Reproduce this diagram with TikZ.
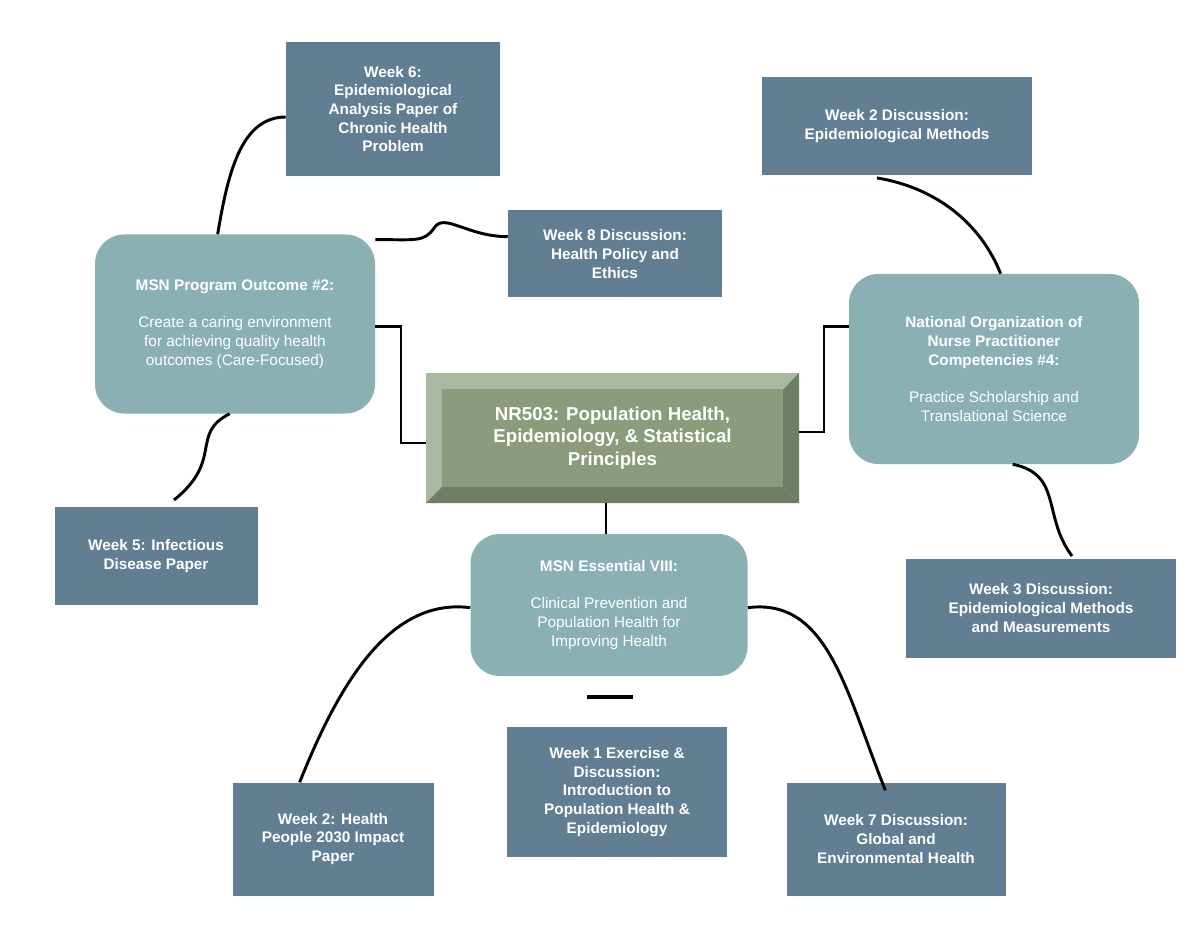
\documentclass[tikz,border=0pt]{standalone}
\usepackage{fontspec}
\setmainfont{Liberation Sans}
\begin{document}
\begin{tikzpicture}[x=0.75pt,y=-0.75pt,
  dark/.style={fill=darkbox,draw=none,text=white,font=\bfseries\fontsize{11.5}{14}\selectfont,align=center,inner sep=0pt},
  light/.style={fill=lightbox,draw=none,rounded corners=22pt,text=white,font=\fontsize{11.5}{14}\selectfont,align=center,inner sep=0pt},
  conn/.style={line width=2.2pt,black}]
\definecolor{darkbox}{HTML}{617E93}
\definecolor{lightbox}{HTML}{8AB0B4}
\definecolor{bevout}{HTML}{A9B8A0}
\definecolor{bevdark}{HTML}{6F7D63}
\definecolor{bevface}{HTML}{8B9B7B}
\useasboundingbox (0,0) rectangle (1200,927);
\fill[white] (0,0) rectangle (1200,927);
% dark boxes
\node[dark,minimum width=214*0.75pt,minimum height=134*0.75pt] (w6) at (393,109) {Week 6:\\Epidemiological\\Analysis Paper of\\Chronic Health\\Problem};
\node[dark,minimum width=270*0.75pt,minimum height=98*0.75pt] (w2d) at (897,126) {Week 2 Discussion:\\Epidemiological Methods};
\node[dark,minimum width=214*0.75pt,minimum height=87*0.75pt] (w8) at (615,254) {Week 8 Discussion:\\Health Policy and\\Ethics};
\node[dark,minimum width=203*0.75pt,minimum height=98*0.75pt] (w5) at (156,556) {Week 5: Infectious\\Disease Paper};
\node[dark,minimum width=270*0.75pt,minimum height=99*0.75pt] (w3) at (1041,608) {Week 3 Discussion:\\Epidemiological Methods\\and Measurements};
\node[dark,minimum width=220*0.75pt,minimum height=130*0.75pt] (w1) at (617,792) {Week 1 Exercise \&\\Discussion:\\Introduction to\\Population Health \&\\Epidemiology};
\node[dark,minimum width=201*0.75pt,minimum height=113*0.75pt] (w2h) at (333,839) {Week 2: Health\\People 2030 Impact\\Paper};
\node[dark,minimum width=219*0.75pt,minimum height=113*0.75pt] (w7) at (896,839) {Week 7 Discussion:\\Global and\\Environmental Health};
% light boxes
\node[light,minimum width=280*0.75pt,minimum height=179*0.75pt] (prog) at (235,324) {\textbf{MSN Program Outcome \#2:}\\[14pt]Create a caring environment\\for achieving quality health\\outcomes (Care-Focused)};
\node[light,minimum width=290*0.75pt,minimum height=190*0.75pt] (nonpf) at (994,369) {\textbf{National Organization of}\\\textbf{Nurse Practitioner}\\\textbf{Competencies \#4:}\\[14pt]Practice Scholarship and\\Translational Science};
\node[light,minimum width=277*0.75pt,minimum height=142*0.75pt] (ess) at (609,605) {\textbf{MSN Essential VIII:}\\[14pt]Clinical Prevention and\\Population Health for\\Improving Health};
% center bevel
\fill[bevout] (426,373) rectangle (799,503);
\fill[bevdark] (799,373) -- (783,390) -- (783,487) -- (799,503) -- cycle;
\fill[bevdark] (426,503) -- (442,487) -- (783,487) -- (799,503) -- cycle;
\node[fill=bevface,minimum width=341*0.75pt,minimum height=97*0.75pt,inner sep=0pt,text=white,font=\bfseries\fontsize{14}{17}\selectfont,align=center] (c) at (612.5,438) {NR503: Population Health,\\Epidemiology, \& Statistical\\Principles};
\path (426,373) rectangle (799,503) coordinate (cse);
\coordinate (cW) at (426,443);
\coordinate (cE) at (799,432);
\coordinate (cS) at (606,503);
% connectors
\draw[conn] ([yshift=-6pt]w6.west) .. controls +(-45,0) and +(10,-60) .. ([xshift=-13pt]prog.north);
\draw[conn] ([yshift=-4pt]prog.north east) .. controls +(40,0) and +(-10,15) .. ([xshift=-55pt,yshift=-13pt]w8.north west) .. controls +(10,-15) and +(-40,0) .. ([yshift=13pt]w8.west);
\draw[conn] ([yshift=-2pt]prog.east) -| (401,443) -- (cW);
\draw[conn] (cE) -- (824,432) |- ([yshift=32pt]nonpf.west);
\draw[conn] ([xshift=-15pt,yshift=-2pt]w2d.south) .. controls +(60,10) and +(-20,-50) .. ([xshift=5pt]nonpf.north);
\draw[conn] ([xshift=-4pt]prog.south) .. controls +(-40,20) and +(50,-40) .. (174,500);
\draw[conn] ([xshift=14pt]nonpf.south) .. controls +(50,10) and +(-30,-40) .. (1072,556);
\draw[conn] (cS) -- (ess.north -| cS);
\draw[line width=3pt] (587,697) -- (633,697);
\draw[conn] ([yshift=-2pt]ess.west) .. controls +(-80,-10) and +(40,-100) .. ([xshift=-25pt]w2h.north);
\draw[conn] ([yshift=-2pt]ess.east) .. controls +(80,-10) and +(-40,-100) .. ([xshift=-8pt,yshift=-6pt]w7.north);
\end{tikzpicture}
\end{document}
